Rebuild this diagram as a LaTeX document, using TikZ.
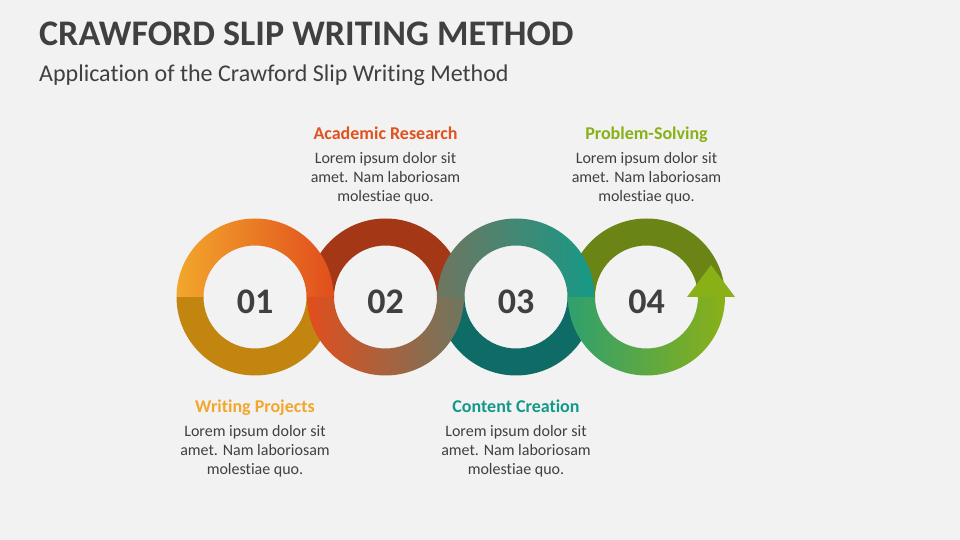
\documentclass[tikz,border=0pt]{standalone}
\usepackage{fontspec}
\setmainfont{Carlito}[Ligatures=NoCommon]
\usetikzlibrary{positioning}

\definecolor{bg}{HTML}{F2F2F2}
\definecolor{txt}{HTML}{404040}
\definecolor{gold}{HTML}{C2850F}
\definecolor{darkred}{HTML}{A33716}
\definecolor{darkteal}{HTML}{0E6B66}
\definecolor{olive}{HTML}{6A8415}
\definecolor{ylw}{HTML}{F2A72C}
\definecolor{orng}{HTML}{E0521E}
\definecolor{grayg}{HTML}{6E7660}
\definecolor{tealc}{HTML}{13998A}
\definecolor{tgreen}{HTML}{2FA06E}
\definecolor{lgreen}{HTML}{8AB017}

\tikzset{
  head/.style={font=\bfseries\fontsize{18}{21}\selectfont, inner sep=0pt, text height=13pt, text depth=4pt},
  body/.style={font=\fontsize{16}{19}\selectfont, text=txt, align=center, inner sep=0pt},
  num/.style={font=\bfseries\fontsize{36}{40}\selectfont, text=txt, inner sep=0pt, anchor=base}
}

\begin{document}
\begin{tikzpicture}[x=1pt,y=1pt]
  %background
  \fill[bg] (0,0) rectangle (960,540);

  %title
  \node[anchor=base west, inner sep=0pt, text=txt, font=\bfseries\fontsize{36}{40}\selectfont] (title) at (39,494) {CRAWFORD SLIP WRITING METHOD};
  \node[anchor=base west, inner sep=0pt, text=txt, font=\fontsize{24}{28}\selectfont] (subtitle) at (39,458) {Application of the Crawford Slip Writing Method};

  %solid halves
  \foreach \cx/\col/\a in {255/gold/180, 385.5/darkred/0, 516/darkteal/180, 646.5/olive/0}
    \fill[\col, shift={(\cx,243)}] (\a:78.5) arc[start angle=\a, end angle=\a+180, radius=78.5] -- ++(\a:27) arc[start angle=\a+180, end angle=\a, radius=51.5] -- cycle;

  %band
  \shade[left color=ylw, right color=orng!95!red, shift={(255,243)}] (180:78.5) arc[start angle=180, end angle=0, radius=78.5] -- ++(-27,0) arc[start angle=0, end angle=180, radius=51.5] -- cycle;
  \shade[left color=orng!95!red, middle color=orng!75!grayg, right color=grayg, shift={(385.5,243)}] (180:78.5) arc[start angle=180, end angle=360, radius=78.5] -- ++(-27,0) arc[start angle=360, end angle=180, radius=51.5] -- cycle;
  \shade[left color=grayg, middle color=tealc!80!grayg, right color=tealc!90!tgreen, shift={(516,243)}] (180:78.5) arc[start angle=180, end angle=0, radius=78.5] -- ++(-27,0) arc[start angle=0, end angle=180, radius=51.5] -- cycle;
  \shade[left color=tgreen, right color=lgreen, shift={(646.5,243)}] (180:78.5) arc[start angle=180, end angle=360, radius=78.5] -- ++(-27,0) arc[start angle=360, end angle=180, radius=51.5] -- cycle;

  %arrow head
  \fill[lgreen] (687,243) -- (735,243) -- (711,275) -- cycle;

  %numbers
  \node[num] (n1) at (255,226) {01};
  \node[num] (n2) at (385.5,226) {02};
  \node[num] (n3) at (516,226) {03};
  \node[num] (n4) at (646.5,226) {04};

  %labels
  \node[head, text=ylw, anchor=base] (writing) at (255,127.5) {Writing Projects};
  \node[body, below=8pt of writing] (writingtxt) {Lorem ipsum dolor sit\\amet. Nam laboriosam\\molestiae quo.};
  \node[head, text=orng, anchor=base] (academic) at (385.5,400) {Academic Research};
  \node[body, below=8pt of academic] (academictxt) {Lorem ipsum dolor sit\\amet. Nam laboriosam\\molestiae quo.};
  \node[head, text=tealc, anchor=base] (content) at (516,127.5) {Content Creation};
  \node[body, below=8pt of content] (contenttxt) {Lorem ipsum dolor sit\\amet. Nam laboriosam\\molestiae quo.};
  \node[head, text=lgreen, anchor=base] (problem) at (646.5,400) {Problem-Solving};
  \node[body, below=8pt of problem] (problemtxt) {Lorem ipsum dolor sit\\amet. Nam laboriosam\\molestiae quo.};
\end{tikzpicture}
\end{document}
